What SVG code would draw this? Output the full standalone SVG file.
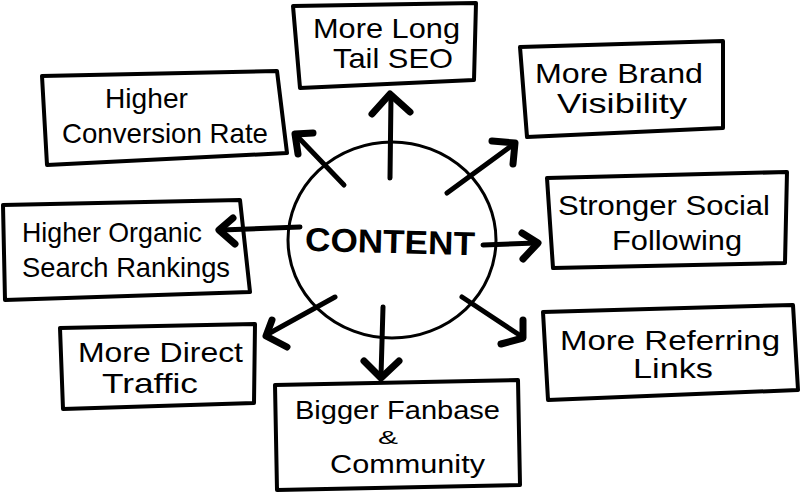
<svg xmlns="http://www.w3.org/2000/svg" width="800" height="496" viewBox="0 0 800 496">
<style>
.box{fill:none;stroke:#000;stroke-width:4;stroke-linejoin:round;stroke-linecap:round}
.t{font-family:"Liberation Sans",Arial,sans-serif;font-size:28px;fill:#000}
.shaft{fill:none;stroke:#000;stroke-width:5;stroke-linecap:round}
.head{fill:none;stroke:#000;stroke-width:7;stroke-linecap:round;stroke-linejoin:round}
</style>
<rect width="800" height="496" fill="#fff"/>
<g id="connectors">
  <path class="shaft" d="M390 178 L391 96"/>
  <path class="head" d="M372 114 L390 94 L410 112"/>
  <path class="shaft" d="M344 185 L297 136"/>
  <path class="head" d="M298 154 L295 134 L313 133"/>
  <path class="shaft" d="M447 193 L514 144"/>
  <path class="head" d="M492 141 L515 143 L513 164"/>
  <path class="shaft" d="M300 227 L221 230"/>
  <path class="head" d="M233 218 L219 230 L235 244"/>
  <path class="shaft" d="M483 245 L536 243"/>
  <path class="head" d="M522 233 L538 243 L523 259"/>
  <path class="shaft" d="M335 297 L268 334"/>
  <path class="head" d="M272 320 L266 336 L287 347"/>
  <path class="shaft" d="M383 307 L381 376"/>
  <path class="head" d="M364 361 L381 378 L399 361"/>
  <path class="shaft" d="M462 297 L521 336"/>
  <path class="head" d="M523 320 L523 338 L501 344"/>
</g>
<g id="content">
  <ellipse cx="392" cy="240" rx="104" ry="98" fill="none" stroke="#000" stroke-width="3"/>
  <text x="305" y="253" class="t" style="font-weight:bold;font-size:33px" textLength="170" lengthAdjust="spacingAndGlyphs" transform="rotate(1.5 390 242)">CONTENT</text>
</g>
<g id="long-tail-seo">
  <path class="box" d="M293 6 L476 3 L474 80 L300 88 Z"/>
  <text x="313" y="38" class="t" textLength="147" lengthAdjust="spacingAndGlyphs">More Long</text>
  <text x="333" y="68" class="t" textLength="120" lengthAdjust="spacingAndGlyphs">Tail SEO</text>
</g>
<g id="conversion-rate">
  <path class="box" d="M42 76 L277 71 L287 153 L47 165 Z"/>
  <text x="105" y="108" class="t" textLength="83" lengthAdjust="spacingAndGlyphs">Higher</text>
  <text x="62" y="143" class="t" textLength="206" lengthAdjust="spacingAndGlyphs">Conversion Rate</text>
</g>
<g id="brand-visibility">
  <path class="box" d="M520 47 L723 41 L723 128 L527 137 Z"/>
  <text x="535" y="83" class="t" textLength="168" lengthAdjust="spacingAndGlyphs">More Brand</text>
  <text x="557" y="113" class="t" textLength="130" lengthAdjust="spacingAndGlyphs">Visibility</text>
</g>
<g id="social-following">
  <path class="box" d="M547 178 L787 172 L785 263 L553 268 Z"/>
  <text x="558" y="215" class="t" textLength="212" lengthAdjust="spacingAndGlyphs">Stronger Social</text>
  <text x="612" y="250" class="t" textLength="130" lengthAdjust="spacingAndGlyphs">Following</text>
</g>
<g id="organic-rankings">
  <path class="box" d="M3 205 L240 200 L250 292 L5 300 Z"/>
  <text x="22" y="242" class="t" textLength="180" lengthAdjust="spacingAndGlyphs">Higher Organic</text>
  <text x="22" y="277" class="t" textLength="208" lengthAdjust="spacingAndGlyphs">Search Rankings</text>
</g>
<g id="direct-traffic">
  <path class="box" d="M60 328 L255 324 L254 403 L63 409 Z"/>
  <text x="78" y="362" class="t" textLength="165" lengthAdjust="spacingAndGlyphs">More Direct</text>
  <text x="102" y="393" class="t" textLength="96" lengthAdjust="spacingAndGlyphs">Traffic</text>
</g>
<g id="fanbase-community">
  <path class="box" d="M275 385 L518 380 L520 485 L277 490 Z"/>
  <text x="295" y="419" class="t" style="font-size:26px" textLength="205" lengthAdjust="spacingAndGlyphs">Bigger Fanbase</text>
  <text x="378" y="444" class="t" style="font-size:19px" textLength="20" lengthAdjust="spacingAndGlyphs">&amp;</text>
  <text x="330" y="473" class="t" style="font-size:26px" textLength="155" lengthAdjust="spacingAndGlyphs">Community</text>
</g>
<g id="referring-links">
  <path class="box" d="M543 312 L793 305 L798 390 L548 400 Z"/>
  <text x="560" y="350" class="t" textLength="220" lengthAdjust="spacingAndGlyphs">More Referring</text>
  <text x="633" y="378" class="t" textLength="80" lengthAdjust="spacingAndGlyphs">Links</text>
</g>
</svg>
